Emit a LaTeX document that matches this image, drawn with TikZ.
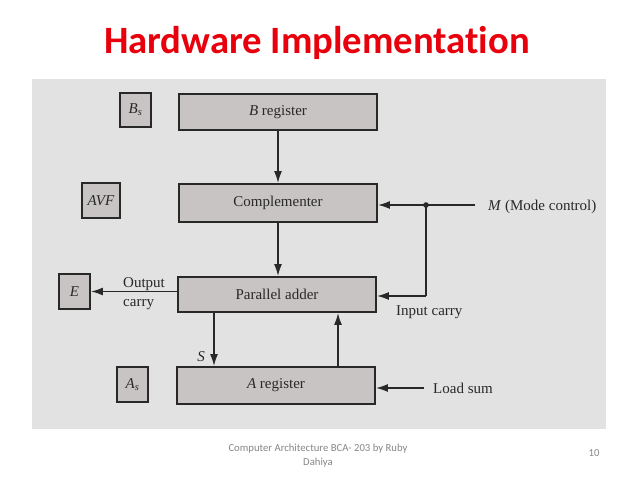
\documentclass[tikz,border=0pt]{standalone}
\usepackage{fontspec}
\setmainfont{Liberation Serif}
\newfontfamily\carl[Ligatures=NoCommon]{Carlito}
\usetikzlibrary{arrows.meta}
\definecolor{scan}{RGB}{226,226,226}
\definecolor{boxfill}{RGB}{200,196,196}
\definecolor{ink}{RGB}{40,40,40}
\definecolor{titlered}{RGB}{232,0,12}
\definecolor{foot}{RGB}{135,135,135}
\tikzset{
  blk/.style={draw=ink, line width=1.8pt, fill=boxfill, inner sep=0pt, font=\fontsize{15}{17}\selectfont, text=ink},
  conn/.style={draw=ink, line width=1.7pt, -{Latex[length=12pt,width=8pt]}},
  plain/.style={draw=ink, line width=1.7pt},
  lbl/.style={font=\fontsize{15}{17}\selectfont, text=ink, inner sep=0pt},
}
\begin{document}
\begin{tikzpicture}[x=1pt,y=-1pt]
\useasboundingbox (0,0) rectangle (638,478);
\fill[white] (0,0) rectangle (638,478);
\fill[scan] (32,79) rectangle (606,429);
% title
\node[font=\carl\bfseries\fontsize{38.7}{42}\selectfont, text=titlered, inner sep=0pt] (title) at (317,43) {Hardware Implementation};
% boxes
\node[blk, minimum width=31pt, minimum height=34pt] (bs) at (135.5,110) {\textit{B}\textsubscript{\textit{s}}};
\node[blk, minimum width=198pt, minimum height=36pt] (breg) at (278,112) {\textit{B} register};
\node[blk, minimum width=38pt, minimum height=35pt] (avf) at (101,200.5) {\textit{AVF}};
\node[blk, minimum width=198pt, minimum height=38pt] (comp) at (278,203) {Complementer};
\node[blk, minimum width=31pt, minimum height=35pt] (e) at (74.5,291.5) {\textit{E}};
\node[blk, minimum width=198pt, minimum height=35pt] (padd) at (277,294.5) {Parallel adder};
\node[blk, minimum width=31pt, minimum height=35pt] (as) at (132.5,384.5) {\textit{A}\textsubscript{\textit{s}}};
\node[blk, minimum width=198pt, minimum height=37pt] (areg) at (276,385.5) {\textit{A} register};
% labels
\node[lbl, anchor=west] (mlbl) at (488,207) {\textit{M} (Mode control)};
\node[lbl, anchor=west] (incarry) at (396,312) {Input carry};
\node[lbl, anchor=west] (loadsum) at (433,388) {Load sum};
\node[lbl, anchor=west] (outl) at (123,284) {Output};
\node[lbl, anchor=west] (carl) at (123,305) {carry};
\node[lbl] (slbl) at (201,357) {\textit{S}};
% coordinates
\coordinate (mstart) at (475,205);
\coordinate (dot) at (426,205);
\coordinate (corner) at (426,296);
\coordinate (lsstart) at (424,388);
% connectors
\draw[conn] (breg.south) -- (comp.north);
\draw[conn] (comp.south) -- (padd.north -| comp.south);
\draw[conn] (mstart) -- (mstart -| comp.east);
\draw[plain] (dot) -- (corner);
\draw[conn] (corner) -- (corner -| padd.east);
\fill[ink] (dot) circle (2.8pt);
\draw[conn] (padd.west |- e.east) -- (e.east);
\draw[conn] (padd.south -| 214,0) -- (areg.north -| 214,0);
\draw[conn] (areg.north -| 338,0) -- (padd.south -| 338,0);
\draw[conn] (lsstart) -- (lsstart -| areg.east);
% footer
\node[font=\carl\fontsize{10.7}{14}\selectfont, text=foot, align=center, inner sep=0pt] (footer) at (318,456) {Computer Architecture BCA- 203 by Ruby\\Dahiya};
\node[font=\carl\fontsize{10.7}{12}\selectfont, text=foot, inner sep=0pt] (pnum) at (594,453) {10};
\end{tikzpicture}
\end{document}
